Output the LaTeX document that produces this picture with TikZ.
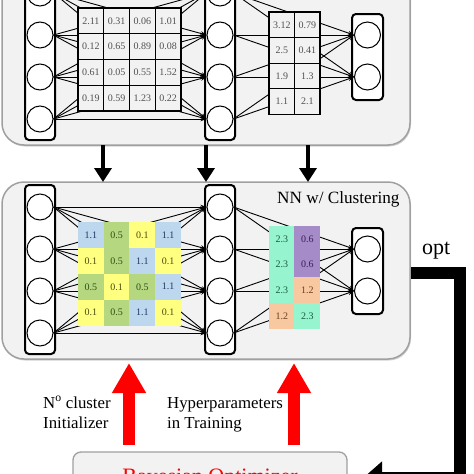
\documentclass[tikz,border=0pt]{standalone}
\usepackage{fontspec}
\setmainfont{Liberation Serif}
\usetikzlibrary{arrows.meta,shadows,calc}
\definecolor{panelfill}{HTML}{F2F2F2}
\definecolor{panelline}{HTML}{A0A0A0}
\definecolor{numgray}{HTML}{505050}
\definecolor{cblue}{HTML}{BDD7EE}
\definecolor{cgreen}{HTML}{B4D77F}
\definecolor{cyellow}{HTML}{FFFF80}
\definecolor{cmint}{HTML}{96F5CF}
\definecolor{cpurple}{HTML}{A58BC8}
\definecolor{corange}{HTML}{F8C8A0}
\definecolor{tblue}{HTML}{1F3864}
\definecolor{tgreen}{HTML}{2F4F18}
\definecolor{tyellow}{HTML}{4A4A10}
\definecolor{tmint}{HTML}{1A5A3C}
\definecolor{tpurple}{HTML}{3A1F55}
\definecolor{torange}{HTML}{6A4020}
\begin{document}
\begin{tikzpicture}[x=1pt,y=-1pt,
  panel/.style={draw=panelline, line width=1.5pt, fill=panelfill, rounded corners=22pt,
    drop shadow={shadow xshift=1pt, shadow yshift=-1.5pt, opacity=0.35}},
  layerbox/.style={draw=black, line width=2pt, fill=white, rounded corners=4pt, inner sep=0pt},
  neuron/.style={circle, draw=black, line width=1pt, fill=white, minimum size=26pt, inner sep=0pt},
  conn/.style={line width=0.9pt, -{Stealth[length=6pt,width=4.5pt]}},
  flow/.style={line width=3.5pt, -{Triangle[length=14pt,width=17pt]}},
  redflow/.style={draw=red, line width=12pt, -{Triangle[length=30pt,width=32pt]}},
  optline/.style={line width=12pt, -{Triangle[length=19pt,width=32pt]}},
  tcell/.style={draw=black, line width=1.3pt, fill=panelfill, inner sep=0pt,
    font=\fontsize{10}{12}\selectfont, text=numgray},
  bcell/.style={inner sep=0pt, font=\fontsize{10}{12}\selectfont},
  lbl/.style={inner sep=0pt, anchor=base west, font=\fontsize{16.8}{20}\selectfont}
]
\clip (0,0) rectangle (474,474);
\fill[white] (0,0) rectangle (474,474);

\foreach \p/\dy in {t/0,b/214} {
  \node[panel, minimum width=408pt, minimum height=177pt] (\p-panel) at (206,56.5+\dy) {};
  \node[layerbox, minimum width=30pt, minimum height=169pt] (\p-lbox) at (40,55.5+\dy) {};
  \node[layerbox, minimum width=30pt, minimum height=169pt] (\p-mbox) at (220,55.5+\dy) {};
  \node[layerbox, minimum width=31pt, minimum height=86pt] (\p-obox) at (367.5,57+\dy) {};
  \foreach \i/\yy in {1/-7,2/35,3/77,4/119} {
    \node[neuron] (\p-l\i) at (40,\yy+\dy) {};
    \node[neuron] (\p-m\i) at (220,\yy+\dy) {};
  }
  \node[neuron] (\p-o1) at (367.5,35+\dy) {};
  \node[neuron] (\p-o2) at (367.5,77+\dy) {};
  \foreach \i in {1,...,4} {
    \foreach \j in {1,...,4} {\draw[conn] (\p-l\i.east) -- (\p-m\j.west);}
    \foreach \j in {1,2} {\draw[conn] (\p-m\i.east) -- (\p-o\j.west);}
  }
}

% top weight matrices
\foreach \v [count=\k from 0] in {2.11,0.31,0.06,1.01,0.12,0.65,0.89,0.08,0.61,0.05,0.55,1.52,0.19,0.59,1.23,0.22} {
  \pgfmathtruncatemacro\r{\k/4}
  \pgfmathtruncatemacro\c{mod(\k,4)}
  \node[tcell, minimum width=25.75pt, minimum height=25.75pt] (t-w\k) at ({78+25.75*(\c+0.5)},{8+25.75*(\r+0.5)}) {\v};
}
\foreach \v [count=\k from 0] in {3.12,0.79,2.5,0.41,1.9,1.3,1.1,2.1} {
  \pgfmathtruncatemacro\r{\k/2}
  \pgfmathtruncatemacro\c{mod(\k,2)}
  \node[tcell, minimum width=25.5pt, minimum height=25.6pt] (t-v\k) at ({269+25.5*(\c+0.5)},{12+25.6*(\r+0.5)}) {\v};
}

% bottom clustered matrices
\foreach \v/\col [count=\k from 0] in {1.1/blue,0.5/green,0.1/yellow,1.1/blue,
  0.1/yellow,0.5/green,1.1/blue,0.1/yellow,
  0.5/green,0.1/yellow,0.5/green,1.1/blue,
  0.1/yellow,0.5/green,1.1/blue,0.1/yellow} {
  \pgfmathtruncatemacro\r{\k/4}
  \pgfmathtruncatemacro\c{mod(\k,4)}
  \node[bcell, fill=c\col, text=t\col, minimum width=25.9pt, minimum height=26pt] (b-w\k) at ({78+25.75*(\c+0.5)},{222+25.9*(\r+0.5)}) {\v};
}
\foreach \v/\col [count=\k from 0] in {2.3/mint,0.6/purple,2.3/mint,0.6/purple,2.3/mint,1.2/orange,1.2/orange,2.3/mint} {
  \pgfmathtruncatemacro\r{\k/2}
  \pgfmathtruncatemacro\c{mod(\k,2)}
  \node[bcell, fill=c\col, text=t\col, minimum width=25.7pt, minimum height=25.9pt] (b-v\k) at ({269+25.5*(\c+0.5)},{226+25.75*(\r+0.5)}) {\v};
}

\node[lbl, font=\fontsize{17.2}{20}\selectfont] (title) at (277,203) {NN w/ Clustering};

% arrows between the panels
\coordinate (a1s) at (103,145); \coordinate (a1e) at (103,182);
\coordinate (a2s) at (206,145); \coordinate (a2e) at (206,182);
\coordinate (a3s) at (308,145); \coordinate (a3e) at (308,182);
\draw[flow] (a1s) -- (a1e);
\draw[flow] (a2s) -- (a2e);
\draw[flow] (a3s) -- (a3e);

% Bayesian optimizer
\node[draw=panelline, line width=1.3pt, fill=panelfill, rounded corners=8pt,
  minimum width=274pt, minimum height=52pt] (bayes) at (210,478) {};
\node[inner sep=0pt, anchor=base, text=red, font=\fontsize{22}{26}\selectfont] (bayestxt) at (210,483) {Bayesian Optimizer};

\coordinate (r1s) at (129,445); \coordinate (r1e) at (129,363);
\coordinate (r2s) at (294,445); \coordinate (r2e) at (294,363);
\draw[redflow] (r1s) -- (r1e);
\draw[redflow] (r2s) -- (r2e);

\node[lbl] (n1) at (43,408) {N\textsuperscript{o} cluster};
\node[lbl] (n2) at (43,428) {Initializer};
\node[lbl] (h1) at (167,408) {Hyperparameters};
\node[lbl] (h2) at (167,428) {in Training};

% opt feedback
\coordinate (optend) at (363,478);
\draw[optline] ([yshift=-2pt]b-panel.east) -- ++(49,0) |- (optend);
\node[lbl, font=\fontsize{22}{26}\selectfont] (opt) at (422,254) {opt};
\end{tikzpicture}
\end{document}
